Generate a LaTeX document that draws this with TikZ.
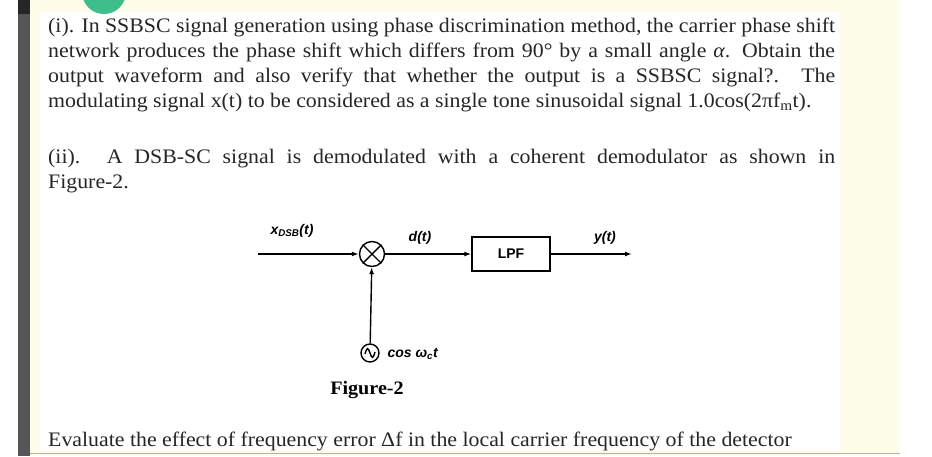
\documentclass[tikz,border=0pt]{standalone}
\usepackage{fontspec}
\setmainfont[FakeStretch=1.06]{Liberation Serif}
\newfontfamily\figfont{Liberation Sans}
\usetikzlibrary{arrows.meta}
\definecolor{cream}{HTML}{FDFDE9}
\definecolor{bar}{HTML}{555555}
\definecolor{okgreen}{HTML}{3DBE8A}
\begin{document}
\begin{tikzpicture}[x=1pt,y=-1pt,
  wire/.style={line width=1.4pt},
  arr/.style={wire,-{Latex[length=7pt,width=5pt]}},
  flab/.style={font=\figfont\bfseries\itshape\fontsize{14}{15}\selectfont},
  para/.style={anchor=north west,inner sep=0pt,text width=787pt,align=justify,font=\fontsize{20.6}{25}\selectfont,text=black!85}]
\useasboundingbox (0,0) rectangle (932,456);
\fill[white] (0,0) rectangle (932,456);
\fill[cream] (30,0) rectangle (900,456);
\fill[white] (40,12) rectangle (840,450);
\fill[bar] (18,0) rectangle (30,456);
\fill[black!85] (18,0) rectangle (30,14);
\fill[okgreen] (104,-8) circle (22);
\draw[black!30,line width=1pt] (30,453) -- (900,453);
\node[para] (p1) at (48,18) {(i). In SSBSC signal generation using phase discrimination method, the carrier phase shift\linebreak network produces the phase shift which differs from 90° by a small angle \textit{α}. Obtain the\linebreak output waveform and also verify that whether the output is a SSBSC signal?. The\linebreak modulating signal x(t) to be considered as a single tone sinusoidal signal 1.0cos(2πf\textsubscript{m}t).};
\node[para] (p2) at (48,149) {(ii). A DSB-SC signal is demodulated with a coherent demodulator as shown in\linebreak Figure-2.};
% figure
\node[draw,circle,wire,minimum size=25pt,inner sep=0pt] (mix) at (372,254) {};
\draw[wire] (mix.north west) -- (mix.south east) (mix.north east) -- (mix.south west);
\node[draw,wire,minimum width=78pt,minimum height=34pt,font=\figfont\bfseries\fontsize{14}{15}\selectfont] (lpf) at (511,254) {LPF};
\node[draw,circle,wire,minimum size=18pt,inner sep=0pt] (osc) at (370,353) {};
\draw[wire] (osc.center) ++(-5,1) .. controls +(2,-7) and +(-2,-6) .. ++(5,-1) .. controls +(2,6) and +(-2,7) .. ++(5,-1);
\coordinate (in) at (258,254);
\coordinate (out) at (632,254);
\draw[arr] (in) -- (mix);
\draw[arr] (mix) -- (lpf);
\draw[arr] (lpf) -- (out);
\draw[arr] (osc) -- (mix);
\node[flab] (lx) at (292,231) {x\textsubscript{DSB}(t)};
\node[flab] (ld) at (420,238) {d(t)};
\node[flab] (ly) at (605,238) {y(t)};
\node[flab,anchor=west] (lc) at (384,354) {cos ω\textsubscript{c}t};
\node[font=\bfseries\fontsize{19}{20}\selectfont] (fig) at (367,390) {Figure-2};
\node[anchor=west,inner sep=0pt,font=\fontsize{20.6}{21}\selectfont,text=black!85] (p3) at (48,441) {Evaluate the effect of frequency error Δf in the local carrier frequency of the detector};
\end{tikzpicture}
\end{document}
